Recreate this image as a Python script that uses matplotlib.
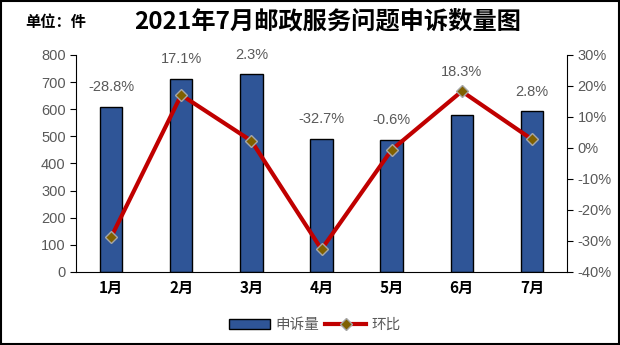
import numpy as np
import matplotlib.pyplot as plt
from matplotlib.lines import Line2D
from matplotlib.patches import Patch

plt.rcParams['font.family'] = ['Liberation Sans', 'Noto Sans CJK SC', 'DejaVu Sans']

months = ['1月', '2月', '3月', '4月', '5月', '6月', '7月']
complaints = [609, 712, 729, 491, 488, 577, 593]
mom = [-28.8, 17.1, 2.3, -32.7, -0.6, 18.3, 2.8]   # 环比 %

grey = '#595959'
bar_col = '#2F5597'
line_col = '#C00000'

fig = plt.figure(figsize=(6.2, 3.45), dpi=100)
ax = fig.add_axes([0.1226, 0.2116, 0.7919, 0.629])
ax2 = ax.twinx()

x = np.arange(len(months))
ax.bar(x, complaints, width=0.32, color=bar_col, edgecolor='black', linewidth=1, zorder=2)
ax.set_ylim(0, 800)
ax.set_xlim(-0.5, len(months) - 0.5)
ax.set_yticks(range(0, 801, 100))
ax.set_xticks(x)
ax.set_xticklabels(months, fontweight='bold', fontsize=11, color='black',
                   family=['Noto Sans CJK SC', 'DejaVu Sans'])
ax.tick_params(axis='x', length=0, pad=6)
ax.tick_params(axis='y', colors='black', labelcolor=grey, labelsize=10.5, length=4, direction='out')

ax2.plot(x, mom, color=line_col, linewidth=3, marker='D', markersize=6,
         markerfacecolor='#7F6000', markeredgecolor='#A6A6A6', markeredgewidth=1, zorder=3)
ax2.set_ylim(-40, 30)
ax2.set_yticks(range(-40, 31, 10))
ax2.set_yticklabels([f'{v}%' for v in range(-40, 31, 10)])
ax2.tick_params(axis='y', colors='black', labelcolor=grey, labelsize=10.5, length=4, direction='out')

for a in (ax, ax2):
    a.spines['top'].set_visible(False)
ax.spines['right'].set_visible(False)
ax2.spines['left'].set_visible(False)
ax2.spines['bottom'].set_visible(False)

# data labels above the higher of bar top / line point
for i in range(len(months)):
    bar_top = complaints[i]
    pt = (mom[i] + 40) / 70 * 800
    top = max(bar_top, pt)
    ax.annotate(f'{mom[i]:.1f}%', (x[i], top), xytext=(0, 9), textcoords='offset points',
                ha='center', va='bottom', fontsize=10.5, color=grey, zorder=5)

fig.text(0.528, 0.935, '2021年7月邮政服务问题申诉数量图', ha='center', va='center',
         fontsize=17.5, fontweight='bold', family=['Noto Sans CJK SC', 'DejaVu Sans'])
fig.text(0.04, 0.935, '单位：件', ha='left', va='center', fontsize=11, fontweight='bold',
         family=['Noto Sans CJK SC', 'DejaVu Sans'])

handles = [Patch(facecolor=bar_col, edgecolor='black', label='申诉量'),
           Line2D([0], [0], color=line_col, linewidth=3, marker='D', markersize=6,
                  markerfacecolor='#7F6000', markeredgecolor='#A6A6A6', label='环比')]
leg = fig.legend(handles=handles, loc='center', bbox_to_anchor=(0.508, 0.058), ncol=2,
                 frameon=False, handlelength=2.8, columnspacing=0.4,
                 handletextpad=0.4, prop={'family': ['Noto Sans CJK SC'], 'size': 10.5})
for t in leg.get_texts():
    t.set_color(grey)

fig.patches.append(plt.Rectangle((0.002, 0.003), 0.996, 0.994, transform=fig.transFigure,
                                 fill=False, edgecolor='black', linewidth=1.5))

fig.savefig('out.png', dpi=100)
